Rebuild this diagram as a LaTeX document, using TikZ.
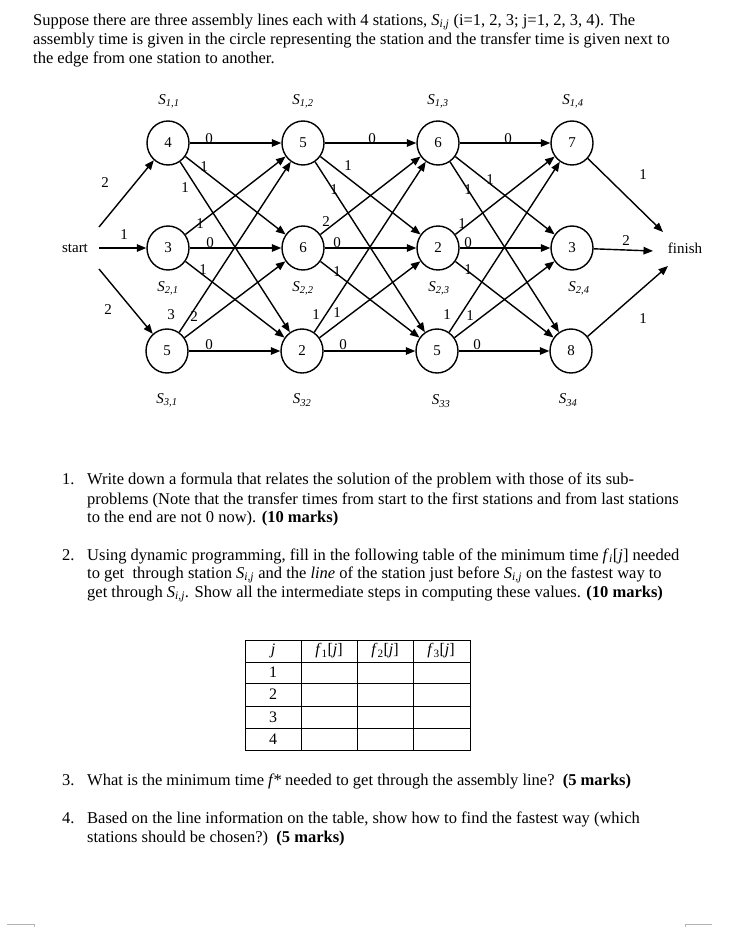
\documentclass[tikz,border=0pt]{standalone}
\usepackage{fontspec}
\setmainfont{Liberation Serif}
\usetikzlibrary{arrows.meta,positioning,shapes.geometric}
\definecolor{MarkGrey}{HTML}{B4B4B4}
\newcommand{\Sst}[1]{\textit{S}\textsubscript{\textit{#1}}}
\newcommand{\Fi}[1]{\textit{f}\textsubscript{#1}[\textit{j}]}

\begin{document}
\begin{tikzpicture}[x=1pt, y=-1pt, font=\fontsize{15}{18}\selectfont,
  stn/.style={draw, ellipse, line width=1.4pt, minimum width=42pt, minimum height=44pt, inner sep=0pt},
  edge/.style={line width=1.4pt, -{Triangle[length=9.5pt,width=7.5pt]}},
  wt/.style={inner sep=0pt},
  nm/.style={inner sep=0pt},
  txt/.style={anchor=base west, inner sep=0pt, font=\fontsize{16.5}{19}\selectfont},
  cell/.style={inner sep=0pt, font=\fontsize{16}{19}\selectfont},
  tabline/.style={line width=0.8pt},
  cornermark/.style={MarkGrey, line width=0.8pt}]
\useasboundingbox (0,0) rectangle (735,927);
%% introduction
\node[txt] (p1) at (33,25) {Suppose there are three assembly lines each with 4 stations, \Sst{i,j} (i=1, 2, 3; j=1, 2, 3, 4). The};
\node[txt] (p2) at (33,44) {assembly time is given in the circle representing the station and the transfer time is given next to};
\node[txt] (p3) at (33,63) {the edge from one station to another.};
%% stations
\foreach \n/\x/\y/\t in {s11/168/143/4, s12/303/143/5, s13/438/143/6, s14/572/143/7,
                         s21/168/248/3, s22/303/248/6, s23/438/248/2, s24/572/248/3,
                         s31/167/351/5, s32/302/351/2, s33/437/351/5, s34/571/351/8}
  \node[stn] (\n) at (\x,\y) {\t};
\foreach \n/\x/\y/\t in {n11/169/101/{1,1}, n12/303/101/{1,2}, n13/438/101/{1,3}, n14/573/101/{1,4},
                         n21/168/288/{2,1}, n22/303/288/{2,2}, n23/439/288/{2,3}, n24/579/288/{2,4},
                         n31/167/400/{3,1}, n32/302/400/{32}, n33/441/401/{33}, n34/568/400/{34}}
  \node[nm] (\n) at (\x,\y) {\Sst{\t}};
\node[nm] (start) at (75,248) {start};
\node[nm] (finish) at (685,248) {finish};
\coordinate (st-a) at (99,227);
\coordinate (st-b) at (99,248);
\coordinate (st-c) at (99,269);
\coordinate (fi-a) at (663,232);
\coordinate (fi-b) at (653,251);
\coordinate (fi-c) at (668,266);
%% transfers
\foreach \a/\b/\w/\lx/\ly [count=\k] in {
    st-a/s11/2/105/183, st-b/s21/1/124/235, st-c/s31/2/108/310,
    s11/s12/0/209/139, s11/s22/1/204/167, s11/s32/1/185/188,
    s21/s12/1/200/224, s21/s22/0/210/243, s21/s32/1/203/270,
    s31/s12/3/171/315, s31/s22/2/194/317, s31/s32/0/209/345,
    s12/s13/0/372/139, s12/s23/1/348/166, s12/s33/1/334/190,
    s22/s13/2/326/222, s22/s23/0/337/243, s22/s33/1/337/272,
    s32/s13/1/316/315, s32/s23/1/337/313, s32/s33/0/343/345,
    s13/s14/0/508/139, s13/s24/1/490/180, s13/s34/1/468/190,
    s23/s14/1/462/224, s23/s24/0/468/243, s23/s34/1/468/270,
    s33/s14/1/447/315, s33/s24/1/470/316, s33/s34/0/477/345,
    s14/fi-a/1/643/175, s24/fi-b/2/626/241, s34/fi-c/1/643/319}
  {\draw[edge] (\a) -- (\b);
   \node[wt] (w\k) at (\lx,\ly) {\w};}
%% questions
\node[txt] (q1) at (62,484) {1.};
\node[txt] (q1a) at (87,484) {Write down a formula that relates the solution of the problem with those of its sub-};
\node[txt] (q1b) at (87,504) {problems (Note that the transfer times from start to the first stations and from last stations};
\node[txt] (q1c) at (87,522) {to the end are not 0 now). \textbf{(10 marks)}};
\node[txt] (q2) at (62,560) {2.};
\node[txt] (q2a) at (87,560) {Using dynamic programming, fill in the following table of the minimum time \textit{f}\textsubscript{\textit{i}}[\textit{j}] needed};
\node[txt] (q2b) at (87,578) {to get\ \ through station \Sst{i,j} and the \textit{line} of the station just before \Sst{i,j} on the fastest way to};
\node[txt] (q2c) at (87,597) {get through \Sst{i,j}. Show all the intermediate steps in computing these values. \textbf{(10 marks)}};
%% table
\draw[tabline] (245,640) rectangle (470,750);
\foreach \y in {662,683,706,728}
  \draw[tabline] (245,\y) -- (470,\y);
\foreach \x in {301,357,413}
  \draw[tabline] (\x,640) -- (\x,750);
\node[cell] (hj) at (273,651) {\textit{j}};
\node[cell] (hf1) at (329,651) {\Fi{1}};
\node[cell] (hf2) at (385,651) {\Fi{2}};
\node[cell] (hf3) at (441,651) {\Fi{3}};
\foreach \j/\y in {1/672.5, 2/694.5, 3/717, 4/739}
  \node[cell] (r\j) at (273,\y) {\j};
\node[txt] (q3) at (62,785) {3.};
\node[txt] (q3a) at (87,785) {What is the minimum time \textit{f*} needed to get through the assembly line?\ \ \textbf{(5 marks)}};
\node[txt] (q4) at (62,823) {4.};
\node[txt] (q4a) at (87,823) {Based on the line information on the table, show how to find the fastest way (which};
\node[txt] (q4b) at (87,842) {stations should be chosen?)\ \ \textbf{(5 marks)}};
%% page corner marks
\draw[cornermark] (7,924) -- (34,924) -- (34,927);
\draw[cornermark] (712,924) -- (685,924) -- (685,927);
\end{tikzpicture}
\end{document}
